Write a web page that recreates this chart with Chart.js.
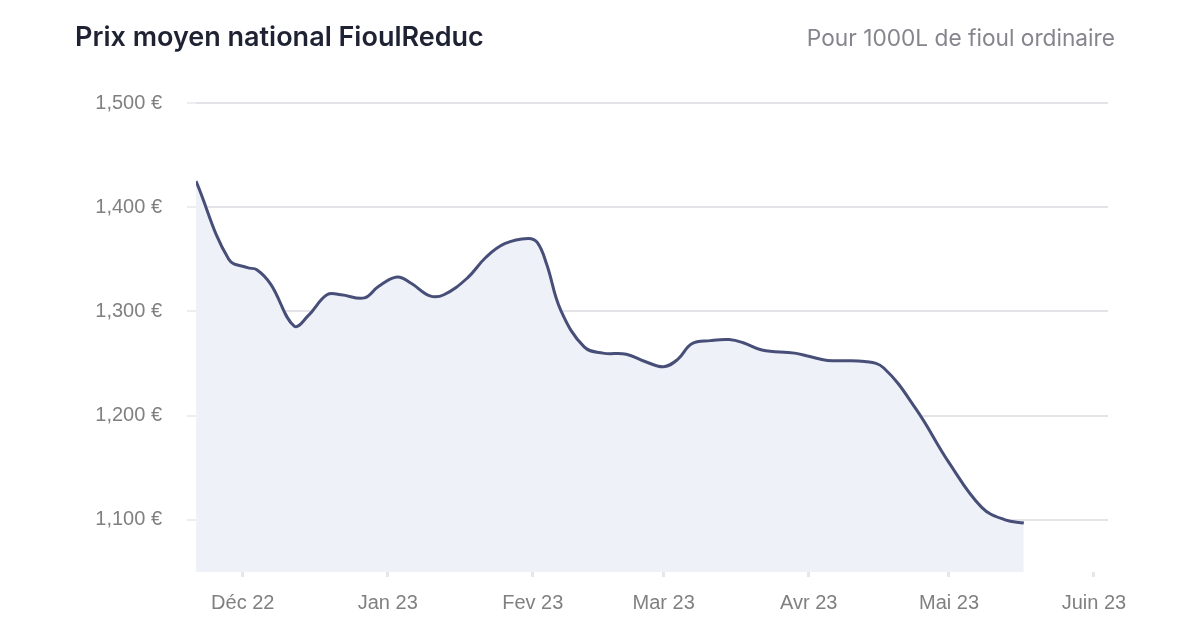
<!DOCTYPE html>
<html lang="fr">
<head>
<meta charset="UTF-8" />
<title>Prix moyen national FioulReduc</title>
<script src="https://cdn.jsdelivr.net/npm/chart.js"></script>
<style>
  html, body { margin: 0; padding: 0; background: #fff; }
  #wrap { position: relative; width: 1200px; height: 627px; }
  #title { position: absolute; left: 75px; top: 21px; font-family: Inter, sans-serif; font-weight: 600; font-size: 27px; line-height: 32px; color: #1f2233; }
  #sub { position: absolute; right: 85px; top: 22px; font-family: Inter, sans-serif; font-weight: 400; font-size: 22.7px; line-height: 32px; color: #85858d; }
  canvas { position: absolute; left: 0; top: 0; }
</style>
</head>
<body>
<div id="wrap">
  <canvas id="chart" width="1200" height="627"></canvas>
  <div id="title">Prix moyen national FioulReduc</div>
  <div id="sub">Pour 1000L de fioul ordinaire</div>
</div>
<script>
// days counted from 1 Dec 2022
const days = [-10, -3, 1, 3, 6, 11, 14, 18, 21, 26, 29, 33, 36, 40, 43, 48, 52, 56, 61, 63, 65, 68, 73, 77, 82, 86, 90, 93, 96, 100, 104, 107, 111, 118, 121, 125, 133, 137, 144, 151, 158, 163, 167];
const prices = [1425, 1350, 1342, 1340, 1326, 1286, 1296, 1316, 1316, 1313, 1324, 1333, 1327, 1315, 1316, 1332, 1352, 1365, 1370, 1366, 1345, 1301, 1266, 1260, 1259, 1252, 1247, 1254, 1269, 1272, 1273, 1270, 1263, 1260, 1257, 1253, 1252, 1246, 1206, 1155, 1112, 1100, 1097];
const monthDays = [0, 31, 62, 90, 121, 151, 182];
const monthLabels = ['Déc 22', 'Jan 23', 'Fev 23', 'Mar 23', 'Avr 23', 'Mai 23', 'Juin 23'];
const yTicks = [1100, 1200, 1300, 1400, 1500];

const points = days.map((d, i) => ({ x: d, y: prices[i] }));

new Chart(document.getElementById('chart'), {
  type: 'line',
  data: {
    datasets: [{
      data: points,
      borderColor: '#474f78',
      borderWidth: 3,
      backgroundColor: '#eff1f9',
      fill: 'start',
      pointRadius: 0,
      tension: 0.4
    }]
  },
  options: {
    responsive: false,
    animation: false,
    layout: { padding: { top: 103, right: 92, left: 0, bottom: 0 } },
    plugins: { legend: { display: false }, tooltip: { enabled: false } },
    scales: {
      x: {
        type: 'linear',
        min: -10,
        max: 185,
        afterBuildTicks: (s) => { s.ticks = monthDays.map(v => ({ value: v })); },
        afterFit: (s) => { s.height = 55; },
        border: { display: false },
        grid: { drawOnChartArea: false, drawTicks: true, tickLength: 5, color: '#e6e6ea', lineWidth: 3 },
        ticks: {
          padding: 14,
          color: '#808080',
          font: { family: 'Liberation Sans', size: 20 },
          maxRotation: 0,
          autoSkip: false,
          callback: (v) => monthLabels[monthDays.indexOf(v)]
        }
      },
      y: {
        min: 1050,
        max: 1500,
        afterBuildTicks: (s) => { s.ticks = yTicks.map(v => ({ value: v })); },
        afterFit: (s) => { s.width = 196; },
        border: { display: false },
        grid: { color: '#e4e4e8', lineWidth: 2, tickLength: 9, tickColor: '#ededf0' },
        ticks: {
          padding: 25,
          color: '#808080',
          font: { family: 'Liberation Sans', size: 20 },
          callback: (v) => v.toLocaleString('en-US') + ' €'
        }
      }
    }
  }
});
</script>
</body>
</html>
